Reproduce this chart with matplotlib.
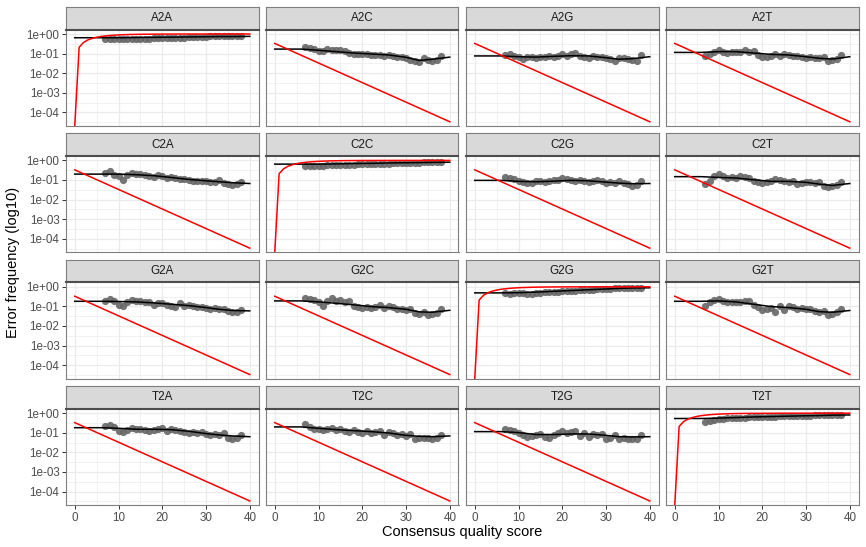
import numpy as np
import matplotlib
matplotlib.use("Agg")
import matplotlib.pyplot as plt

plt.rcParams['font.family'] = ['Liberation Sans', 'DejaVu Sans']

# quality scores of observed points and knots of fitted error rates
q_obs = [7, 8, 9, 10, 11, 12, 13, 14, 15, 16, 17, 18, 19, 20, 21, 22,
         23, 24, 25, 26, 27, 28, 29, 30, 31, 32, 33, 34, 35, 36, 37, 38]
q_fit = [0, 6, 10, 14, 18, 22, 26, 30, 33, 36, 40]

# nominal error rates (red lines)
q_nom_off = [0, 40]
nom_off = [0.33, 3.3e-5]
q_nom_diag = [0, 1, 2, 3, 4, 5, 6, 8, 10, 13, 16, 20, 25, 30, 40]
nom_diag = [0.0, 0.21, 0.37, 0.50, 0.60, 0.68, 0.75, 0.84, 0.90, 0.95,
            0.975, 0.99, 0.997, 0.999, 1.0]

# observed / fitted error frequency, stored as log10
a2a_obs = [-0.28, -0.27, -0.27, -0.28, -0.27, -0.26, -0.26, -0.25, -0.24, -0.24, -0.23, -0.22, -0.22, -0.21, -0.20, -0.20,
           -0.19, -0.18, -0.18, -0.17, -0.16, -0.15, -0.15, -0.14, -0.12, -0.11, -0.10, -0.12, -0.10, -0.09, -0.10, -0.12]
a2a_fit = [-0.19, -0.19, -0.19, -0.18, -0.17, -0.16, -0.15, -0.14, -0.13, -0.13, -0.12]
a2c_obs = [-0.65, -0.70, -0.77, -0.87, -0.85, -0.77, -0.80, -0.82, -0.83, -0.87, -0.99, -1.04, -1.04, -1.02, -1.04, -1.07,
           -1.07, -1.06, -1.11, -1.07, -1.12, -1.16, -1.16, -1.24, -1.31, -1.38, -1.45, -1.24, -1.35, -1.38, -1.33, -1.11]
a2c_fit = [-0.77, -0.77, -0.83, -0.90, -0.97, -1.02, -1.07, -1.19, -1.35, -1.29, -1.18]
a2g_obs = [-1.07, -1.04, -1.11, -1.19, -1.28, -1.18, -1.16, -1.21, -1.16, -1.19, -1.12, -1.16, -1.12, -1.04, -1.11, -1.04,
           -0.99, -1.11, -1.16, -1.24, -1.11, -1.16, -1.16, -1.24, -1.29, -1.38, -1.24, -1.21, -1.29, -1.33, -1.38, -1.07]
a2g_fit = [-1.12, -1.12, -1.16, -1.18, -1.14, -1.11, -1.12, -1.21, -1.29, -1.26, -1.16]
a2t_obs = [-1.11, -1.04, -0.90, -0.82, -0.90, -0.99, -0.94, -0.90, -0.94, -0.82, -0.90, -0.85, -1.07, -1.16, -1.16, -1.11,
           -1.04, -1.11, -1.04, -1.07, -1.11, -1.12, -1.18, -1.21, -1.16, -1.21, -1.24, -1.16, -1.38, -1.33, -1.28, -1.07]
a2t_fit = [-0.94, -0.94, -0.90, -0.90, -0.97, -1.04, -1.07, -1.16, -1.24, -1.28, -1.16]

c2a_obs = [-0.65, -0.56, -0.73, -0.82, -0.99, -0.73, -0.65, -0.70, -0.70, -0.77, -0.82, -0.87, -0.77, -0.82, -0.90, -0.87,
           -0.90, -0.94, -0.94, -0.99, -1.04, -1.04, -1.07, -1.04, -1.11, -1.11, -1.01, -1.16, -1.21, -1.24, -1.21, -1.12]
c2a_fit = [-0.70, -0.70, -0.70, -0.73, -0.78, -0.87, -0.97, -1.04, -1.09, -1.14, -1.18]
c2c_obs = [-0.31, -0.30, -0.27, -0.28, -0.26, -0.25, -0.24, -0.24, -0.23, -0.22, -0.21, -0.21, -0.20, -0.19, -0.19, -0.18,
           -0.18, -0.17, -0.16, -0.16, -0.15, -0.14, -0.14, -0.13, -0.12, -0.12, -0.11, -0.10, -0.09, -0.09, -0.08, -0.10]
c2c_fit = [-0.19, -0.19, -0.19, -0.18, -0.16, -0.15, -0.13, -0.12, -0.11, -0.10, -0.09]
c2g_obs = [-0.87, -0.90, -0.94, -1.04, -1.11, -1.16, -1.16, -1.07, -1.04, -1.11, -1.07, -1.02, -0.99, -0.90, -0.94, -0.99,
           -1.07, -0.99, -1.04, -1.11, -1.04, -0.99, -1.07, -1.16, -1.11, -1.16, -1.04, -1.16, -1.21, -1.33, -1.24, -1.07]
c2g_fit = [-1.02, -1.02, -1.07, -1.09, -1.06, -1.02, -1.04, -1.11, -1.16, -1.19, -1.18]
c2t_obs = [-1.21, -1.04, -0.82, -0.70, -0.82, -0.90, -0.87, -0.90, -0.82, -0.87, -0.90, -1.04, -1.11, -1.16, -1.11, -1.04,
           -0.94, -0.99, -1.04, -1.11, -1.07, -1.21, -1.16, -1.11, -1.11, -1.16, -1.11, -1.33, -1.38, -1.33, -1.24, -1.11]
c2t_fit = [-0.83, -0.83, -0.87, -0.90, -0.99, -1.07, -1.07, -1.12, -1.21, -1.28, -1.18]

g2a_obs = [-0.74, -0.63, -0.74, -0.91, -0.97, -0.77, -0.68, -0.74, -0.74, -0.77, -0.80, -0.91, -0.85, -0.85, -0.94, -0.97,
           -1.03, -0.85, -0.97, -0.94, -0.97, -1.03, -1.03, -1.08, -1.11, -1.08, -1.15, -1.11, -1.25, -1.28, -1.28, -1.16]
g2a_fit = [-0.74, -0.74, -0.75, -0.77, -0.82, -0.89, -0.96, -1.06, -1.15, -1.21, -1.23]
g2c_obs = [-0.56, -0.63, -0.68, -0.80, -0.97, -0.74, -0.56, -0.74, -0.68, -0.77, -0.74, -0.97, -1.03, -1.08, -1.03, -1.08,
           -1.03, -0.94, -1.08, -0.97, -1.03, -1.11, -1.11, -1.20, -1.15, -1.32, -1.37, -1.28, -1.42, -1.37, -1.32, -1.11]
g2c_fit = [-0.72, -0.72, -0.77, -0.84, -0.92, -1.01, -1.06, -1.15, -1.28, -1.30, -1.20]
g2g_obs = [-0.34, -0.35, -0.33, -0.32, -0.33, -0.39, -0.36, -0.30, -0.30, -0.28, -0.27, -0.26, -0.25, -0.22, -0.21, -0.20,
           -0.20, -0.18, -0.17, -0.16, -0.14, -0.13, -0.12, -0.11, -0.10, -0.08, -0.08, -0.07, -0.06, -0.05, -0.04, -0.06]
g2g_fit = [-0.31, -0.31, -0.30, -0.27, -0.23, -0.19, -0.15, -0.11, -0.08, -0.06, -0.05]
g2t_obs = [-0.97, -0.80, -0.68, -0.63, -0.74, -0.80, -0.77, -0.80, -0.77, -0.74, -0.74, -0.91, -1.03, -1.20, -1.11, -1.08,
           -1.28, -0.97, -1.20, -0.97, -1.03, -1.11, -1.08, -1.15, -1.11, -1.25, -1.28, -1.25, -1.42, -1.37, -1.28, -1.15]
g2t_fit = [-0.74, -0.74, -0.72, -0.77, -0.89, -1.01, -1.06, -1.15, -1.27, -1.30, -1.21]

t2a_obs = [-0.65, -0.62, -0.68, -0.91, -0.96, -0.85, -0.74, -0.79, -0.79, -0.85, -0.91, -0.85, -0.82, -0.75, -0.91, -0.82,
           -0.85, -0.91, -0.96, -0.99, -0.96, -1.03, -0.96, -1.08, -1.13, -1.08, -1.13, -1.03, -1.25, -1.33, -1.25, -1.13]
t2a_fit = [-0.74, -0.74, -0.77, -0.82, -0.82, -0.84, -0.92, -1.04, -1.11, -1.16, -1.20]
t2c_obs = [-0.56, -0.68, -0.79, -0.82, -0.85, -0.82, -0.75, -0.85, -0.82, -0.91, -0.96, -0.85, -0.96, -0.99, -0.92, -0.99,
           -0.96, -0.91, -1.13, -0.96, -1.03, -1.13, -1.08, -1.16, -1.08, -1.30, -1.25, -1.25, -1.25, -1.30, -1.25, -1.09]
t2c_fit = [-0.70, -0.70, -0.77, -0.84, -0.89, -0.94, -1.01, -1.13, -1.18, -1.20, -1.16]
t2g_obs = [-0.82, -0.85, -0.91, -1.03, -1.13, -1.20, -1.16, -1.13, -1.08, -1.20, -1.25, -1.13, -1.03, -0.92, -0.99, -0.96,
           -0.91, -1.16, -1.03, -1.20, -1.08, -1.13, -1.08, -1.33, -1.25, -1.13, -1.30, -1.25, -1.30, -1.33, -1.33, -1.13]
t2g_fit = [-0.94, -0.94, -0.99, -1.09, -1.09, -1.06, -1.06, -1.13, -1.20, -1.21, -1.20]
t2t_obs = [-0.43, -0.38, -0.34, -0.30, -0.28, -0.27, -0.25, -0.25, -0.24, -0.22, -0.21, -0.20, -0.19, -0.19, -0.18, -0.17,
           -0.17, -0.16, -0.15, -0.15, -0.14, -0.14, -0.13, -0.12, -0.12, -0.11, -0.10, -0.10, -0.09, -0.08, -0.08, -0.10]
t2t_fit = [-0.27, -0.27, -0.25, -0.22, -0.19, -0.17, -0.15, -0.13, -0.12, -0.10, -0.09]

panels = [
    ("A2A", a2a_obs, a2a_fit, True), ("A2C", a2c_obs, a2c_fit, False),
    ("A2G", a2g_obs, a2g_fit, False), ("A2T", a2t_obs, a2t_fit, False),
    ("C2A", c2a_obs, c2a_fit, False), ("C2C", c2c_obs, c2c_fit, True),
    ("C2G", c2g_obs, c2g_fit, False), ("C2T", c2t_obs, c2t_fit, False),
    ("G2A", g2a_obs, g2a_fit, False), ("G2C", g2c_obs, g2c_fit, False),
    ("G2G", g2g_obs, g2g_fit, True), ("G2T", g2t_obs, g2t_fit, False),
    ("T2A", t2a_obs, t2a_fit, False), ("T2C", t2c_obs, t2c_fit, False),
    ("T2G", t2g_obs, t2g_fit, False), ("T2T", t2t_obs, t2t_fit, True),
]

y_ticks = [1e0, 1e-1, 1e-2, 1e-3, 1e-4]
y_ticklabels = ["1e+00", "1e-01", "1e-02", "1e-03", "1e-04"]
x_ticks = [0, 10, 20, 30, 40]

# layout, in pixels
W, H = 866, 547
col_left = [66, 266, 466, 666]
pan_w = 192.5
strip_h = 22.5
pan_h = 96.5
row_pitch = 126.4
top0 = 7
ylo, yhi = 2.0e-5, 1.7

fig = plt.figure(figsize=(W / 100, H / 100), dpi=100)
fig.patch.set_facecolor("white")

border = "#7f7f7f"
for i, (name, obs, fit, diag) in enumerate(panels):
    r, c = divmod(i, 4)
    st = top0 + r * row_pitch
    pt = st + strip_h
    ax = fig.add_axes([col_left[c] / W, 1 - (pt + pan_h) / H, pan_w / W, pan_h / H])
    sx = fig.add_axes([col_left[c] / W, 1 - pt / H, pan_w / W, strip_h / H])

    # strip
    sx.set_facecolor("#d9d9d9")
    sx.set_xticks([])
    sx.set_yticks([])
    for s in sx.spines.values():
        s.set_color(border)
        s.set_linewidth(0.8)
    sx.spines["bottom"].set_color("#4d4d4d")
    sx.spines["bottom"].set_linewidth(1.5)
    sx.text(0.5, 0.5, name, ha="center", va="center", fontsize=8.4,
            color="#1a1a1a", transform=sx.transAxes)

    ax.set_yscale("log")
    ax.set_xlim(-2, 42)
    ax.set_ylim(ylo, yhi)
    ax.set_xticks(x_ticks)
    ax.set_xticks([5, 15, 25, 35], minor=True)
    ax.set_yticks(y_ticks)
    ax.set_yticks([10 ** -0.5, 10 ** -1.5, 10 ** -2.5, 10 ** -3.5, 10 ** -4.5], minor=True)
    ax.grid(True, which="major", color="#ebebeb", linewidth=0.9)
    ax.grid(True, which="minor", color="#ebebeb", linewidth=0.45)
    ax.set_axisbelow(True)
    for s in ax.spines.values():
        s.set_color(border)
        s.set_linewidth(0.8)
    ax.spines["top"].set_visible(False)

    ax.tick_params(which="minor", length=0)
    ax.tick_params(which="major", length=2.7, width=0.7, color="#333333",
                   labelsize=8.4, labelcolor="#4d4d4d", pad=2)
    if c == 0:
        ax.set_yticklabels(y_ticklabels)
    else:
        ax.tick_params(axis="y", which="major", length=0, labelleft=False)
    if r == 3:
        ax.set_xticklabels([str(t) for t in x_ticks])
    else:
        ax.tick_params(axis="x", which="major", length=0, labelbottom=False)

    ax.scatter(q_obs, 10 ** np.array(obs), s=27, color="#666666", alpha=0.9,
               linewidths=0, zorder=2)
    ax.plot(q_fit, 10 ** np.array(fit), color="black", linewidth=1.1, zorder=3)
    if diag:
        nd = np.array(nom_diag)
        ax.plot(q_nom_diag, np.where(nd > 0, nd, ylo), color="red", linewidth=1.1, zorder=4)
    else:
        ax.plot(q_nom_off, nom_off, color="red", linewidth=1.1, zorder=4)

fig.text(462 / W, 1 - 532 / H, "Consensus quality score", ha="center", va="center",
         fontsize=10.5, color="black")
fig.text(13 / W, 1 - 262 / H, "Error frequency (log10)", ha="center", va="center",
         rotation=90, fontsize=10.5, color="black")

fig.savefig("out.png", dpi=100, facecolor="white")
